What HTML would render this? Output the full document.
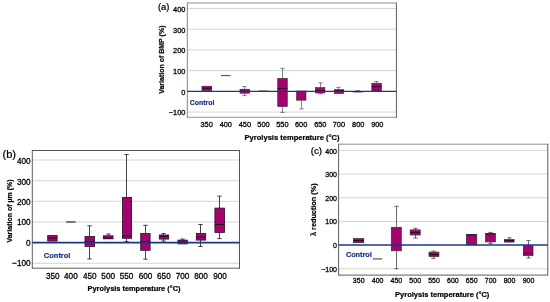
<!DOCTYPE html>
<html><head><meta charset="utf-8"><title>Box plots</title>
<style>
html,body{margin:0;padding:0;background:#fff;}
body{width:550px;height:302px;overflow:hidden;}
svg{display:block;font-family:"Liberation Sans",sans-serif;fill:#000;}
</style></head><body>
<svg width="550" height="302" viewBox="0 0 550 302">
<rect width="550" height="302" fill="#ffffff" stroke="none"/>
<g id="plot-a">
<line x1="187.3" x2="396.4" y1="8.47" y2="8.47" stroke="#b9b9b9" stroke-width="0.6"/>
<line x1="187.3" x2="396.4" y1="29.19" y2="29.19" stroke="#b9b9b9" stroke-width="0.6"/>
<line x1="187.3" x2="396.4" y1="49.91" y2="49.91" stroke="#b9b9b9" stroke-width="0.6"/>
<line x1="187.3" x2="396.4" y1="70.63" y2="70.63" stroke="#b9b9b9" stroke-width="0.6"/>
<line x1="187.3" x2="396.4" y1="112.07" y2="112.07" stroke="#b9b9b9" stroke-width="0.6"/>
<line x1="187.3" x2="396.4" y1="3.0" y2="3.0" stroke="#8e8e8e" stroke-width="1.0"/>
<line x1="187.3" x2="396.4" y1="117.3" y2="117.3" stroke="#959595" stroke-width="1.0"/>
<line x1="187.3" x2="187.3" y1="2.5" y2="117.8" stroke="#858585" stroke-width="1.0"/>
<line x1="396.4" x2="396.4" y1="2.5" y2="117.8" stroke="#5e5e5e" stroke-width="1.0"/>
<text x="185.4" y="12.03" font-size="7.4" text-anchor="end" stroke="#000" stroke-width="0.28">400</text>
<text x="185.4" y="32.66" font-size="7.4" text-anchor="end" stroke="#000" stroke-width="0.28">300</text>
<text x="185.4" y="53.29" font-size="7.4" text-anchor="end" stroke="#000" stroke-width="0.28">200</text>
<text x="185.4" y="73.92" font-size="7.4" text-anchor="end" stroke="#000" stroke-width="0.28">100</text>
<text x="185.4" y="94.55" font-size="7.4" text-anchor="end" stroke="#000" stroke-width="0.28">0</text>
<text x="185.4" y="115.18" font-size="7.4" text-anchor="end" stroke="#000" stroke-width="0.28">−100</text>
<text x="206.6" y="126.56" font-size="7.4" text-anchor="middle" stroke="#000" stroke-width="0.28">350</text>
<text x="225.8" y="126.56" font-size="7.4" text-anchor="middle" stroke="#000" stroke-width="0.28">400</text>
<text x="244.9" y="126.56" font-size="7.4" text-anchor="middle" stroke="#000" stroke-width="0.28">450</text>
<text x="263.5" y="126.56" font-size="7.4" text-anchor="middle" stroke="#000" stroke-width="0.28">500</text>
<text x="282.4" y="126.56" font-size="7.4" text-anchor="middle" stroke="#000" stroke-width="0.28">550</text>
<text x="301.1" y="126.56" font-size="7.4" text-anchor="middle" stroke="#000" stroke-width="0.28">600</text>
<text x="320.3" y="126.56" font-size="7.4" text-anchor="middle" stroke="#000" stroke-width="0.28">650</text>
<text x="338.9" y="126.56" font-size="7.4" text-anchor="middle" stroke="#000" stroke-width="0.28">700</text>
<text x="358.2" y="126.56" font-size="7.4" text-anchor="middle" stroke="#000" stroke-width="0.28">800</text>
<text x="377.3" y="126.56" font-size="7.4" text-anchor="middle" stroke="#000" stroke-width="0.28">900</text>
<rect x="202.0" y="86.2" width="9.80" height="4.60" fill="#a3036d" stroke="#3a2a35" stroke-width="0.6"/>
<line x1="202.0" x2="211.8" y1="88.2" y2="88.2" stroke="#2a0a20" stroke-width="1.1"/>
<line x1="221.0" x2="230.6" y1="75.6" y2="75.6" stroke="#444" stroke-width="1.0"/>
<line x1="244.50" x2="244.50" y1="86.6" y2="89.2" stroke="#5a5a5a" stroke-width="0.75"/>
<line x1="242.30" x2="246.70" y1="86.6" y2="86.6" stroke="#5a5a5a" stroke-width="0.75"/>
<line x1="244.50" x2="244.50" y1="93.2" y2="95.6" stroke="#5a5a5a" stroke-width="0.75"/>
<line x1="242.30" x2="246.70" y1="95.6" y2="95.6" stroke="#5a5a5a" stroke-width="0.75"/>
<rect x="240.0" y="89.2" width="9.60" height="4.00" fill="#a3036d" stroke="#3a2a35" stroke-width="0.6"/>
<line x1="240.0" x2="249.6" y1="91.0" y2="91.0" stroke="#2a0a20" stroke-width="1.1"/>
<line x1="259.0" x2="268.4" y1="90.9" y2="90.9" stroke="#444" stroke-width="0.8"/>
<line x1="282.50" x2="282.50" y1="68.3" y2="78.3" stroke="#5a5a5a" stroke-width="0.75"/>
<line x1="280.30" x2="284.70" y1="68.3" y2="68.3" stroke="#5a5a5a" stroke-width="0.75"/>
<line x1="282.50" x2="282.50" y1="106.6" y2="112.4" stroke="#5a5a5a" stroke-width="0.75"/>
<line x1="280.30" x2="284.70" y1="112.4" y2="112.4" stroke="#5a5a5a" stroke-width="0.75"/>
<rect x="277.7" y="78.3" width="9.60" height="28.30" fill="#a3036d" stroke="#3a2a35" stroke-width="0.6"/>
<line x1="277.7" x2="287.3" y1="88.5" y2="88.5" stroke="#2a0a20" stroke-width="1.1"/>
<line x1="301.50" x2="301.50" y1="100.2" y2="108.9" stroke="#5a5a5a" stroke-width="0.75"/>
<line x1="299.30" x2="303.70" y1="108.9" y2="108.9" stroke="#5a5a5a" stroke-width="0.75"/>
<rect x="296.5" y="91.0" width="9.50" height="9.20" fill="#a3036d" stroke="#3a2a35" stroke-width="0.6"/>
<line x1="320.50" x2="320.50" y1="82.9" y2="87.6" stroke="#5a5a5a" stroke-width="0.75"/>
<line x1="318.30" x2="322.70" y1="82.9" y2="82.9" stroke="#5a5a5a" stroke-width="0.75"/>
<line x1="320.50" x2="320.50" y1="93.0" y2="93.8" stroke="#5a5a5a" stroke-width="0.75"/>
<line x1="318.30" x2="322.70" y1="93.8" y2="93.8" stroke="#5a5a5a" stroke-width="0.75"/>
<rect x="315.4" y="87.6" width="9.50" height="5.40" fill="#a3036d" stroke="#3a2a35" stroke-width="0.6"/>
<line x1="315.4" x2="324.9" y1="90.7" y2="90.7" stroke="#2a0a20" stroke-width="1.1"/>
<line x1="338.50" x2="338.50" y1="87.4" y2="89.7" stroke="#5a5a5a" stroke-width="0.75"/>
<line x1="336.30" x2="340.70" y1="87.4" y2="87.4" stroke="#5a5a5a" stroke-width="0.75"/>
<rect x="334.2" y="89.7" width="9.60" height="3.90" fill="#a3036d" stroke="#3a2a35" stroke-width="0.6"/>
<line x1="334.2" x2="343.8" y1="90.6" y2="90.6" stroke="#2a0a20" stroke-width="1.1"/>
<line x1="355.5" x2="360.0" y1="90.5" y2="90.5" stroke="#444" stroke-width="0.6"/>
<line x1="376.50" x2="376.50" y1="81.6" y2="83.2" stroke="#5a5a5a" stroke-width="0.75"/>
<line x1="374.30" x2="378.70" y1="81.6" y2="81.6" stroke="#5a5a5a" stroke-width="0.75"/>
<rect x="371.8" y="83.2" width="9.70" height="7.80" fill="#a3036d" stroke="#3a2a35" stroke-width="0.6"/>
<line x1="371.8" x2="381.5" y1="86.6" y2="86.6" stroke="#2a0a20" stroke-width="1.1"/>
<line x1="187.3" x2="396.4" y1="91.35" y2="91.35" stroke="#18368a" stroke-width="1.3"/>
<line x1="352.9" x2="362.7" y1="92.0" y2="92.0" stroke="#2a1a30" stroke-width="0.8"/>
<text x="189.8" y="104.88" font-size="6.9" font-weight="bold" fill="#1b2f84" stroke="#1b2f84" stroke-width="0.2">Control</text>
<text x="292" y="140.12" font-size="7.55" font-weight="bold" text-anchor="middle" stroke="#000" stroke-width="0.2">Pyrolysis temperature (°C)</text>
<text transform="translate(164.42,59.7) rotate(-90)" font-size="7.0" font-weight="bold" text-anchor="middle" stroke="#000" stroke-width="0.2">Variation of BMP (%)</text>
<text transform="translate(157.9,10.20) scale(1.05,1)" font-size="8.9" stroke="#000" stroke-width="0.22">(a)</text>
</g>
<g id="plot-b">
<line x1="32.3" x2="239.5" y1="160.00" y2="160.00" stroke="#b9b9b9" stroke-width="0.6"/>
<line x1="32.3" x2="239.5" y1="180.65" y2="180.65" stroke="#b9b9b9" stroke-width="0.6"/>
<line x1="32.3" x2="239.5" y1="201.30" y2="201.30" stroke="#b9b9b9" stroke-width="0.6"/>
<line x1="32.3" x2="239.5" y1="221.95" y2="221.95" stroke="#b9b9b9" stroke-width="0.6"/>
<line x1="32.3" x2="239.5" y1="263.25" y2="263.25" stroke="#b9b9b9" stroke-width="0.6"/>
<line x1="32.3" x2="239.5" y1="150.5" y2="150.5" stroke="#4c4c4c" stroke-width="0.95"/>
<line x1="32.3" x2="239.5" y1="268.2" y2="268.2" stroke="#555" stroke-width="0.95"/>
<line x1="32.3" x2="32.3" y1="150.025" y2="268.675" stroke="#555" stroke-width="0.95"/>
<line x1="239.5" x2="239.5" y1="150.025" y2="268.675" stroke="#4c4c4c" stroke-width="0.95"/>
<text x="30.6" y="164.15" font-size="8.2" text-anchor="end" stroke="#000" stroke-width="0.28">400</text>
<text x="30.6" y="184.58" font-size="8.2" text-anchor="end" stroke="#000" stroke-width="0.28">300</text>
<text x="30.6" y="205.00" font-size="8.2" text-anchor="end" stroke="#000" stroke-width="0.28">200</text>
<text x="30.6" y="225.43" font-size="8.2" text-anchor="end" stroke="#000" stroke-width="0.28">100</text>
<text x="30.6" y="245.85" font-size="8.2" text-anchor="end" stroke="#000" stroke-width="0.28">0</text>
<text x="30.6" y="266.28" font-size="8.2" text-anchor="end" stroke="#000" stroke-width="0.28">−100</text>
<text x="52.8" y="278.95" font-size="8.2" text-anchor="middle" stroke="#000" stroke-width="0.28">350</text>
<text x="70.9" y="278.95" font-size="8.2" text-anchor="middle" stroke="#000" stroke-width="0.28">400</text>
<text x="89.8" y="278.95" font-size="8.2" text-anchor="middle" stroke="#000" stroke-width="0.28">450</text>
<text x="108.2" y="278.95" font-size="8.2" text-anchor="middle" stroke="#000" stroke-width="0.28">500</text>
<text x="126.6" y="278.95" font-size="8.2" text-anchor="middle" stroke="#000" stroke-width="0.28">550</text>
<text x="145.5" y="278.95" font-size="8.2" text-anchor="middle" stroke="#000" stroke-width="0.28">600</text>
<text x="163.9" y="278.95" font-size="8.2" text-anchor="middle" stroke="#000" stroke-width="0.28">650</text>
<text x="182.5" y="278.95" font-size="8.2" text-anchor="middle" stroke="#000" stroke-width="0.28">700</text>
<text x="201.1" y="278.95" font-size="8.2" text-anchor="middle" stroke="#000" stroke-width="0.28">800</text>
<text x="220.0" y="278.95" font-size="8.2" text-anchor="middle" stroke="#000" stroke-width="0.28">900</text>
<rect x="47.7" y="235.5" width="9.40" height="5.60" fill="#a3036d" stroke="#2a1025" stroke-width="0.8"/>
<line x1="47.7" x2="57.1" y1="238.0" y2="238.0" stroke="#2a0a20" stroke-width="1.1"/>
<line x1="66.2" x2="75.6" y1="222.0" y2="222.0" stroke="#444" stroke-width="1.4"/>
<line x1="89.50" x2="89.50" y1="225.8" y2="236.5" stroke="#222" stroke-width="0.85"/>
<line x1="87.30" x2="91.70" y1="225.8" y2="225.8" stroke="#222" stroke-width="0.85"/>
<line x1="89.50" x2="89.50" y1="246.5" y2="259.0" stroke="#222" stroke-width="0.85"/>
<line x1="87.30" x2="91.70" y1="259.0" y2="259.0" stroke="#222" stroke-width="0.85"/>
<rect x="85.0" y="236.5" width="9.60" height="10.00" fill="#a3036d" stroke="#2a1025" stroke-width="0.8"/>
<line x1="85.0" x2="94.6" y1="241.6" y2="241.6" stroke="#2a0a20" stroke-width="1.1"/>
<line x1="108.50" x2="108.50" y1="234.0" y2="235.8" stroke="#222" stroke-width="0.85"/>
<line x1="106.30" x2="110.70" y1="234.0" y2="234.0" stroke="#222" stroke-width="0.85"/>
<rect x="103.3" y="235.8" width="9.70" height="3.00" fill="#a3036d" stroke="#2a1025" stroke-width="0.8"/>
<line x1="103.3" x2="113.0" y1="238.2" y2="238.2" stroke="#2a0a20" stroke-width="1.1"/>
<line x1="126.50" x2="126.50" y1="154.5" y2="197.4" stroke="#222" stroke-width="0.85"/>
<line x1="124.30" x2="128.70" y1="154.5" y2="154.5" stroke="#222" stroke-width="0.85"/>
<line x1="126.50" x2="126.50" y1="238.3" y2="241.6" stroke="#222" stroke-width="0.85"/>
<line x1="124.30" x2="128.70" y1="241.6" y2="241.6" stroke="#222" stroke-width="0.85"/>
<rect x="122.4" y="197.4" width="9.20" height="40.90" fill="#a3036d" stroke="#2a1025" stroke-width="0.8"/>
<line x1="122.4" x2="131.6" y1="236.0" y2="236.0" stroke="#2a0a20" stroke-width="1.1"/>
<line x1="145.50" x2="145.50" y1="225.3" y2="233.5" stroke="#222" stroke-width="0.85"/>
<line x1="143.30" x2="147.70" y1="225.3" y2="225.3" stroke="#222" stroke-width="0.85"/>
<line x1="145.50" x2="145.50" y1="250.3" y2="259.2" stroke="#222" stroke-width="0.85"/>
<line x1="143.30" x2="147.70" y1="259.2" y2="259.2" stroke="#222" stroke-width="0.85"/>
<rect x="140.7" y="233.5" width="9.40" height="16.80" fill="#a3036d" stroke="#2a1025" stroke-width="0.8"/>
<line x1="140.7" x2="150.1" y1="241.6" y2="241.6" stroke="#2a0a20" stroke-width="1.1"/>
<line x1="163.50" x2="163.50" y1="233.5" y2="235.0" stroke="#222" stroke-width="0.85"/>
<line x1="161.30" x2="165.70" y1="233.5" y2="233.5" stroke="#222" stroke-width="0.85"/>
<line x1="163.50" x2="163.50" y1="239.1" y2="241.1" stroke="#222" stroke-width="0.85"/>
<line x1="161.30" x2="165.70" y1="241.1" y2="241.1" stroke="#222" stroke-width="0.85"/>
<rect x="159.3" y="235.0" width="9.40" height="4.10" fill="#a3036d" stroke="#2a1025" stroke-width="0.8"/>
<line x1="159.3" x2="168.7" y1="236.3" y2="236.3" stroke="#2a0a20" stroke-width="1.1"/>
<line x1="182.50" x2="182.50" y1="239.0" y2="240.1" stroke="#222" stroke-width="0.85"/>
<line x1="180.30" x2="184.70" y1="239.0" y2="239.0" stroke="#222" stroke-width="0.85"/>
<rect x="177.9" y="240.1" width="9.40" height="3.80" fill="#a3036d" stroke="#2a1025" stroke-width="0.8"/>
<line x1="177.9" x2="187.3" y1="241.9" y2="241.9" stroke="#2a0a20" stroke-width="1.1"/>
<line x1="200.50" x2="200.50" y1="224.5" y2="233.5" stroke="#222" stroke-width="0.85"/>
<line x1="198.30" x2="202.70" y1="224.5" y2="224.5" stroke="#222" stroke-width="0.85"/>
<line x1="200.50" x2="200.50" y1="240.1" y2="246.5" stroke="#222" stroke-width="0.85"/>
<line x1="198.30" x2="202.70" y1="246.5" y2="246.5" stroke="#222" stroke-width="0.85"/>
<rect x="196.3" y="233.5" width="9.40" height="6.60" fill="#a3036d" stroke="#2a1025" stroke-width="0.8"/>
<line x1="196.3" x2="205.7" y1="237.1" y2="237.1" stroke="#2a0a20" stroke-width="1.1"/>
<line x1="219.50" x2="219.50" y1="196.1" y2="208.1" stroke="#222" stroke-width="0.85"/>
<line x1="217.30" x2="221.70" y1="196.1" y2="196.1" stroke="#222" stroke-width="0.85"/>
<line x1="219.50" x2="219.50" y1="232.4" y2="238.6" stroke="#222" stroke-width="0.85"/>
<line x1="217.30" x2="221.70" y1="238.6" y2="238.6" stroke="#222" stroke-width="0.85"/>
<rect x="214.9" y="208.1" width="9.70" height="24.30" fill="#a3036d" stroke="#2a1025" stroke-width="0.8"/>
<line x1="214.9" x2="224.6" y1="224.5" y2="224.5" stroke="#2a0a20" stroke-width="1.1"/>
<line x1="32.3" x2="239.5" y1="242.6" y2="242.6" stroke="#18368a" stroke-width="1.6"/>

<text x="43.8" y="258.10" font-size="7.5" font-weight="bold" fill="#1b2f84" stroke="#1b2f84" stroke-width="0.2">Control</text>
<text x="134.0" y="291.26" font-size="7.4" font-weight="bold" text-anchor="middle" stroke="#000" stroke-width="0.2">Pyrolysis temperature (°C)</text>
<text transform="translate(12.42,211) rotate(-90)" font-size="7.0" font-weight="bold" text-anchor="middle" stroke="#000" stroke-width="0.2">Variation of µm (%)</text>
<text transform="translate(2.5,157.67) scale(1.09,1)" font-size="10.2" stroke="#000" stroke-width="0.22">(b)</text>
</g>
<g id="plot-c">
<line x1="338.6" x2="547.8" y1="150.46" y2="150.46" stroke="#b9b9b9" stroke-width="0.6"/>
<line x1="338.6" x2="547.8" y1="174.12" y2="174.12" stroke="#b9b9b9" stroke-width="0.6"/>
<line x1="338.6" x2="547.8" y1="197.78" y2="197.78" stroke="#b9b9b9" stroke-width="0.6"/>
<line x1="338.6" x2="547.8" y1="221.44" y2="221.44" stroke="#b9b9b9" stroke-width="0.6"/>
<line x1="338.6" x2="547.8" y1="268.76" y2="268.76" stroke="#b9b9b9" stroke-width="0.6"/>
<line x1="338.6" x2="547.8" y1="144.2" y2="144.2" stroke="#8a8a8a" stroke-width="0.95"/>
<line x1="338.6" x2="547.8" y1="275.1" y2="275.1" stroke="#555" stroke-width="0.95"/>
<line x1="338.6" x2="338.6" y1="143.725" y2="275.57500000000005" stroke="#555" stroke-width="0.95"/>
<line x1="547.8" x2="547.8" y1="143.725" y2="275.57500000000005" stroke="#555" stroke-width="0.95"/>
<text x="337.0" y="153.78" font-size="7.0" text-anchor="end" stroke="#000" stroke-width="0.28">400</text>
<text x="337.0" y="177.34" font-size="7.0" text-anchor="end" stroke="#000" stroke-width="0.28">300</text>
<text x="337.0" y="200.90" font-size="7.0" text-anchor="end" stroke="#000" stroke-width="0.28">200</text>
<text x="337.0" y="224.46" font-size="7.0" text-anchor="end" stroke="#000" stroke-width="0.28">100</text>
<text x="337.0" y="248.02" font-size="7.0" text-anchor="end" stroke="#000" stroke-width="0.28">0</text>
<text x="337.0" y="271.58" font-size="7.0" text-anchor="end" stroke="#000" stroke-width="0.28">−100</text>
<text x="358.7" y="283.42" font-size="7.0" text-anchor="middle" stroke="#000" stroke-width="0.28">350</text>
<text x="377.6" y="283.42" font-size="7.0" text-anchor="middle" stroke="#000" stroke-width="0.28">400</text>
<text x="396.4" y="283.42" font-size="7.0" text-anchor="middle" stroke="#000" stroke-width="0.28">450</text>
<text x="415.2" y="283.42" font-size="7.0" text-anchor="middle" stroke="#000" stroke-width="0.28">500</text>
<text x="434.0" y="283.42" font-size="7.0" text-anchor="middle" stroke="#000" stroke-width="0.28">550</text>
<text x="452.9" y="283.42" font-size="7.0" text-anchor="middle" stroke="#000" stroke-width="0.28">600</text>
<text x="471.7" y="283.42" font-size="7.0" text-anchor="middle" stroke="#000" stroke-width="0.28">650</text>
<text x="490.6" y="283.42" font-size="7.0" text-anchor="middle" stroke="#000" stroke-width="0.28">700</text>
<text x="509.5" y="283.42" font-size="7.0" text-anchor="middle" stroke="#000" stroke-width="0.28">800</text>
<text x="528.5" y="283.42" font-size="7.0" text-anchor="middle" stroke="#000" stroke-width="0.28">900</text>
<rect x="353.6" y="238.6" width="10.20" height="4.10" fill="#a3036d" stroke="#3a2a35" stroke-width="0.7"/>
<line x1="353.6" x2="363.8" y1="240.6" y2="240.6" stroke="#2a0a20" stroke-width="1.1"/>
<line x1="372.7" x2="382.1" y1="258.9" y2="258.9" stroke="#444" stroke-width="1.1"/>
<line x1="396.50" x2="396.50" y1="206.3" y2="227.3" stroke="#444" stroke-width="0.8"/>
<line x1="394.30" x2="398.70" y1="206.3" y2="206.3" stroke="#444" stroke-width="0.8"/>
<line x1="396.50" x2="396.50" y1="250.8" y2="268.7" stroke="#444" stroke-width="0.8"/>
<line x1="394.30" x2="398.70" y1="268.7" y2="268.7" stroke="#444" stroke-width="0.8"/>
<rect x="391.3" y="227.3" width="10.00" height="23.50" fill="#a3036d" stroke="#3a2a35" stroke-width="0.7"/>
<line x1="415.50" x2="415.50" y1="228.4" y2="229.9" stroke="#444" stroke-width="0.8"/>
<line x1="413.30" x2="417.70" y1="228.4" y2="228.4" stroke="#444" stroke-width="0.8"/>
<line x1="415.50" x2="415.50" y1="235.0" y2="238.1" stroke="#444" stroke-width="0.8"/>
<line x1="413.30" x2="417.70" y1="238.1" y2="238.1" stroke="#444" stroke-width="0.8"/>
<rect x="410.2" y="229.9" width="10.00" height="5.10" fill="#a3036d" stroke="#3a2a35" stroke-width="0.7"/>
<line x1="410.2" x2="420.2" y1="232.4" y2="232.4" stroke="#2a0a20" stroke-width="1.1"/>
<line x1="433.50" x2="433.50" y1="251.1" y2="252.1" stroke="#444" stroke-width="0.8"/>
<line x1="431.30" x2="435.70" y1="251.1" y2="251.1" stroke="#444" stroke-width="0.8"/>
<line x1="433.50" x2="433.50" y1="256.6" y2="258.3" stroke="#444" stroke-width="0.8"/>
<line x1="431.30" x2="435.70" y1="258.3" y2="258.3" stroke="#444" stroke-width="0.8"/>
<rect x="429.0" y="252.1" width="9.90" height="4.50" fill="#a3036d" stroke="#3a2a35" stroke-width="0.7"/>
<line x1="429.0" x2="438.9" y1="254.6" y2="254.6" stroke="#2a0a20" stroke-width="1.1"/>
<rect x="466.4" y="234.7" width="10.40" height="10.20" fill="#a3036d" stroke="#3a2a35" stroke-width="0.7"/>
<line x1="466.4" x2="476.8" y1="234.9" y2="234.9" stroke="#2a0a20" stroke-width="1.1"/>
<line x1="490.50" x2="490.50" y1="232.4" y2="233.7" stroke="#444" stroke-width="0.8"/>
<line x1="488.30" x2="492.70" y1="232.4" y2="232.4" stroke="#444" stroke-width="0.8"/>
<line x1="490.50" x2="490.50" y1="241.9" y2="243.4" stroke="#444" stroke-width="0.8"/>
<line x1="488.30" x2="492.70" y1="243.4" y2="243.4" stroke="#444" stroke-width="0.8"/>
<rect x="485.5" y="233.7" width="10.00" height="8.20" fill="#a3036d" stroke="#3a2a35" stroke-width="0.7"/>
<line x1="485.5" x2="495.5" y1="233.9" y2="233.9" stroke="#2a0a20" stroke-width="1.1"/>
<line x1="509.50" x2="509.50" y1="237.8" y2="239.6" stroke="#444" stroke-width="0.8"/>
<line x1="507.30" x2="511.70" y1="237.8" y2="237.8" stroke="#444" stroke-width="0.8"/>
<rect x="504.4" y="239.6" width="9.70" height="2.50" fill="#a3036d" stroke="#3a2a35" stroke-width="0.7"/>
<line x1="504.4" x2="514.1" y1="240.7" y2="240.7" stroke="#2a0a20" stroke-width="1.1"/>
<line x1="528.50" x2="528.50" y1="240.6" y2="245.7" stroke="#444" stroke-width="0.8"/>
<line x1="526.30" x2="530.70" y1="240.6" y2="240.6" stroke="#444" stroke-width="0.8"/>
<line x1="528.50" x2="528.50" y1="255.7" y2="258.0" stroke="#444" stroke-width="0.8"/>
<line x1="526.30" x2="530.70" y1="258.0" y2="258.0" stroke="#444" stroke-width="0.8"/>
<rect x="523.3" y="245.7" width="9.70" height="10.00" fill="#a3036d" stroke="#3a2a35" stroke-width="0.7"/>
<line x1="523.3" x2="533.0" y1="253.4" y2="253.4" stroke="#2a0a20" stroke-width="1.1"/>
<line x1="338.6" x2="547.8" y1="245.1" y2="245.1" stroke="#18368a" stroke-width="1.5"/>

<text x="345.9" y="257.23" font-size="7.3" font-weight="bold" fill="#1b2f84" stroke="#1b2f84" stroke-width="0.2">Control</text>
<text x="442.2" y="297.40" font-size="7.5" font-weight="bold" text-anchor="middle" stroke="#000" stroke-width="0.2">Pyrolysis temperature (°C)</text>
<text transform="translate(316.43,209.7) rotate(-90)" font-size="7.3" font-weight="bold" text-anchor="middle" stroke="#000" stroke-width="0.2">λ reduction (%)</text>
<text transform="translate(310.7,154.10) scale(1.1,1)" font-size="8.9" stroke="#000" stroke-width="0.22">(c)</text>
</g>
</svg>
</body></html>
